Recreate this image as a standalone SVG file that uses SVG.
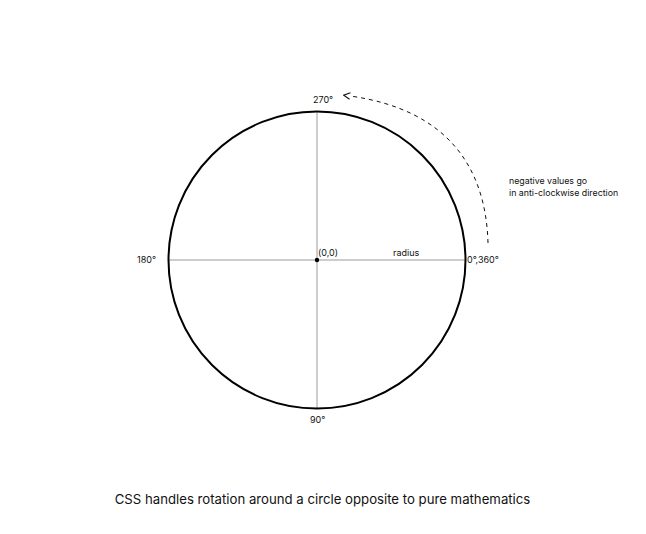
<svg xmlns="http://www.w3.org/2000/svg" width="646" height="534" viewBox="0 0 646 534">
<style>
text{font-family:Inter,"Noto Sans","Liberation Sans",sans-serif;fill:#111}
.s{font-size:9px}
.n{font-size:8.8px}
.axis{stroke:#bdbdbd;stroke-width:1.5;fill:none}
</style>
<defs>
<marker id="chev" viewBox="0 0 10 10" refX="1" refY="5" markerWidth="8" markerHeight="8" markerUnits="userSpaceOnUse" orient="auto">
<path d="M9,1 L1,5 L9,9" fill="none" stroke="#111" stroke-width="1.4" transform="rotate(180 5 5)"/>
</marker>
</defs>
<rect width="646" height="534" fill="#fff"/>
<g id="axes">
<line class="axis" x1="317" y1="111" x2="317" y2="408"/>
<line class="axis" x1="168" y1="260" x2="465" y2="260"/>
</g>
<g id="circle">
<circle cx="317" cy="260" r="148.5" fill="none" stroke="#000" stroke-width="2"/>
</g>
<g id="origin">
<circle cx="317" cy="260" r="2.2" fill="#000"/>
<text class="s" x="318" y="256">(0,0)</text>
</g>
<g id="labels">
<text class="s" x="313" y="103">270°</text>
<text class="s" x="137" y="263">180°</text>
<text class="s" x="310" y="423">90°</text>
<text class="s" x="467" y="263">0°,360°</text>
<text class="s" x="393" y="256">radius</text>
</g>
<g id="note">
<text class="n" x="509" y="184">negative values go</text>
<text class="n" x="509" y="196">in anti-clockwise direction</text>
</g>
<g id="connectors">
<path d="M488,243 C486,170 450,110 350,96" fill="none" stroke="#111" stroke-width="1" stroke-dasharray="4,4" marker-end="url(#chev)"/>
</g>
<g id="caption">
<text x="322.5" y="504" font-size="13.2" text-anchor="middle">CSS handles rotation around a circle opposite to pure mathematics</text>
</g>
</svg>
